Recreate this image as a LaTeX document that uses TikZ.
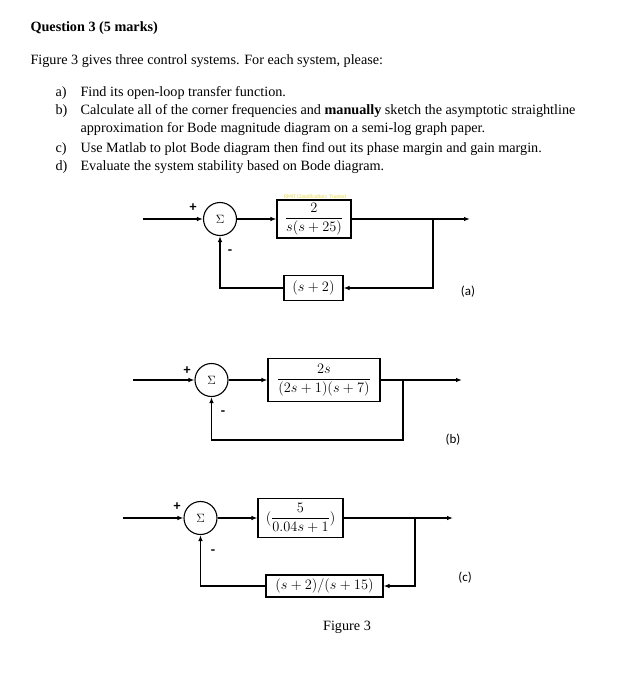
\documentclass[tikz,border=0pt]{standalone}
\usepackage{amsmath}
\usepackage{fontspec}
\setmainfont{Liberation Serif}
\newfontfamily\calfont{Carlito}
\usetikzlibrary{arrows.meta}
\definecolor{wmark}{RGB}{230,215,60}
\begin{document}
\begin{tikzpicture}[x=1pt,y=-1pt,
  line width=1.1pt,
  arr/.style={-{Latex[length=6pt,width=4.5pt]}},
  body/.style={anchor=base west,inner sep=0pt,font=\fontsize{14.2}{16}\selectfont},
  sumnode/.style={draw,circle,minimum size=33pt,inner sep=0pt,font=\fontsize{12}{14}\selectfont},
  blk/.style={draw,rectangle,inner sep=0pt,font=\fontsize{14.8}{17}\selectfont},
  sgn/.style={inner sep=0pt,font=\calfont\bfseries\fontsize{14}{16}\selectfont},
  tag/.style={inner sep=0pt,font=\calfont\fontsize{13}{15}\selectfont}]
\useasboundingbox (0,0) rectangle (639,685);
\fill[white] (0,0) rectangle (639,685);

% ---- text ----
\node[body,font=\fontsize{14.2}{16}\selectfont\bfseries] (title) at (30,32) {Question 3 (5 marks)};
\node[body] (intro) at (30,65) {Figure 3 gives three control systems. For each system, please:};
\node[body] (la) at (55,96) {a)};
\node[body] (ta) at (80,96) {Find its open-loop transfer function.};
\node[body] (lb) at (55,114) {b)};
\node[body] (tb) at (80,114) {Calculate all of the corner frequencies and \textbf{manually} sketch the asymptotic straightline};
\node[body] (tb2) at (80,132) {approximation for Bode magnitude diagram on a semi-log graph paper.};
\node[body] (lc) at (55,152) {c)};
\node[body] (tc) at (80,152) {Use Matlab to plot Bode diagram then find out its phase margin and gain margin.};
\node[body] (ld) at (55,170) {d)};
\node[body] (td) at (80,170) {Evaluate the system stability based on Bode diagram.};

% ---- system (a) ----
\node[inner sep=0pt,text=wmark,font=\calfont\fontsize{5.5}{6}\selectfont] (wm) at (315,196.5) {RMIT Classification: Trusted};
\coordinate (in1) at (143,219);
\node[sumnode] (s1) at (220,219) {$\Sigma$};
\node[blk,minimum width=74pt,minimum height=38pt] (g1) at (314,219) {$\dfrac{2}{s(s+25)}$};
\coordinate (br1) at (433,219);
\coordinate (out1) at (470,219);
\node[blk,minimum width=59pt,minimum height=25pt] (h1) at (313.5,288) {$(s+2)$};
\draw[arr] (in1) -- (s1);
\draw[arr] (s1) -- (g1);
\draw[arr] (g1) -- (out1);
\draw[arr] (br1) |- (h1);
\draw[arr] (h1) -| (s1);
\node[sgn] (p1) at (193,208) {+};
\node[sgn] (m1) at (230,252) {-};
\node[tag] (ta1) at (468,292) {(a)};

% ---- system (b) ----
\coordinate (in2) at (133,380);
\node[sumnode] (s2) at (211.5,380) {$\Sigma$};
\node[blk,minimum width=112pt,minimum height=43pt] (g2) at (324,380) {$\dfrac{2s}{(2s+1)(s+7)}$};
\coordinate (br2) at (403,380);
\coordinate (bt2) at (403,440);
\coordinate (out2) at (462,380);
\draw[arr] (in2) -- (s2);
\draw[arr] (s2) -- (g2);
\draw[arr] (g2) -- (out2);
\draw[arr] (br2) -- (bt2) -| (s2);
\node[sgn] (p2) at (187,371) {+};
\node[sgn] (m2) at (223,413) {-};
\node[tag] (ta2) at (453,440) {(b)};

% ---- system (c) ----
\coordinate (in3) at (123,518);
\node[sumnode] (s3) at (200.5,518) {$\Sigma$};
\node[blk,minimum width=85pt,minimum height=39pt] (g3) at (300.5,518) {$(\dfrac{5}{0.04s+1})$};
\coordinate (br3) at (415,518);
\coordinate (out3) at (453,518);
\node[blk,minimum width=117pt,minimum height=22pt] (h3) at (324.5,586) {$(s+2)/(s+15)$};
\draw[arr] (in3) -- (s3);
\draw[arr] (s3) -- (g3);
\draw[arr] (g3) -- (out3);
\draw[arr] (br3) |- (h3);
\draw[arr] (h3) -| (s3);
\node[sgn] (p3) at (177,507) {+};
\node[sgn] (m3) at (213,552) {-};
\node[tag] (ta3) at (465,578) {(c)};

\node[inner sep=0pt,font=\fontsize{14.2}{16}\selectfont] (fig) at (347,627) {Figure 3};
\end{tikzpicture}
\end{document}
